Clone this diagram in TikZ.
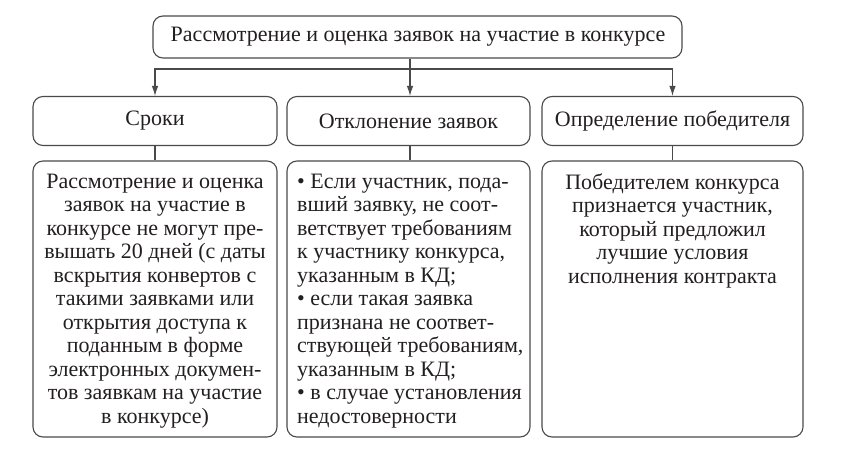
\documentclass[tikz,border=0pt]{standalone}
\usepackage{fontspec}
\setmainfont{Liberation Serif}
\usetikzlibrary{arrows.meta}
\definecolor{ink}{HTML}{231F20}
\definecolor{edge}{HTML}{4A4A4A}
\begin{document}
\begin{tikzpicture}[x=1pt,y=-1pt,
  box/.style={draw=edge,line width=1.1pt,rounded corners=10pt,inner sep=0pt},
  txt/.style={text=ink,inner sep=0pt,font=\fontsize{22}{24}\selectfont},
  body/.style={text=ink,inner sep=0pt,font=\fontsize{22}{23.5}\selectfont},
  arr/.style={draw=edge,line width=1.1pt,-{Latex[length=10pt,width=6.5pt]}},
  lnk/.style={draw=edge,line width=1.1pt}]
\useasboundingbox (0,0) rectangle (845,449);
% top
\node[box,minimum width=529pt,minimum height=42pt] (top) at (417.5,37) {};
\node[txt] (toptxt) at (418,37) {Рассмотрение и оценка заявок на участие в конкурсе};
% row 2
\node[box,minimum width=244pt,minimum height=49pt] (s1) at (155,121) {};
\node[box,minimum width=243pt,minimum height=49pt] (s2) at (408.5,121) {};
\node[box,minimum width=261pt,minimum height=49pt] (s3) at (672.5,121) {};
\node[txt] (s1t) at (s1) {Сроки};
\node[txt] (s2t) at (s2) {Отклонение заявок};
\node[txt] (s3t) at (s3) {Определение победителя};
% row 3
\node[box,minimum width=244pt,minimum height=276pt] (d1) at (155,299) {};
\node[box,minimum width=243pt,minimum height=276pt] (d2) at (408.5,299) {};
\node[box,minimum width=261pt,minimum height=276pt] (d3) at (672.5,299) {};
\node[body,align=center,anchor=north] (d1t) at (155,173.5) {Рассмотрение и оценка\\заявок на участие в\\конкурсе не могут пре-\\вышать 20 дней (с даты\\вскрытия конвертов с\\такими заявками или\\открытия доступа к\\поданным в форме\\электронных докумен-\\тов заявкам на участие\\в конкурсе)};
\node[body,align=left,anchor=north west] (d2t) at (297,173.5) {• Если участник, пода-\\вший заявку, не соот-\\ветствует требованиям\\к участнику конкурса,\\указанным в КД;\\• если такая заявка\\признана не соответ-\\ствующей требованиям,\\указанным в КД;\\• в случае установления\\недостоверности};
\node[body,align=center,anchor=north] (d3t) at (672.5,173.5) {Победителем конкурса\\признается участник,\\который предложил\\лучшие условия\\исполнения контракта};
% connectors
\coordinate (j) at (410,69);
\draw[lnk] (top.south -| j) -- (j);
\draw[arr] (j) -- (j |- s2.north);
\draw[arr] (j) -| (s1.north);
\draw[arr] (j) -| (s3.north);
\draw[lnk] (s1.south) -- (d1.north);
\draw[lnk] (s2.south -| j) -- (d2.north -| j);
\draw[lnk] (s3.south) -- (d3.north);
\end{tikzpicture}
\end{document}
